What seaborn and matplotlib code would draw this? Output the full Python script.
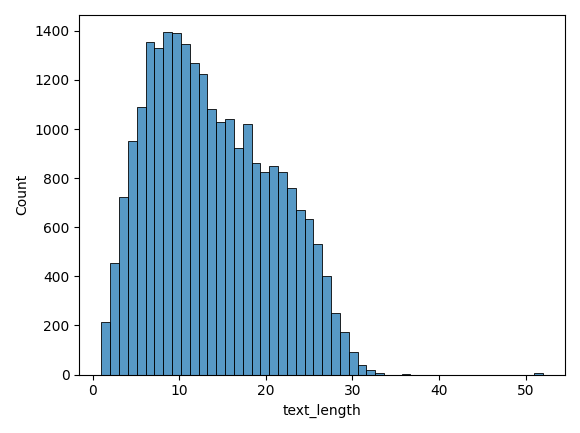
import numpy as np
import pandas as pd
import matplotlib
matplotlib.use("Agg")
import matplotlib.pyplot as plt
import seaborn as sns

# histogram counts (50 bins from 1 to 52)
bin_lo, bin_hi, n_bins = 1, 52, 50
counts = [215, 455, 725, 950, 1090, 1355, 1330, 1395, 1390, 1345,
          1270, 1225, 1080, 1030, 1040, 925, 1020, 860, 825, 850,
          825, 760, 670, 635, 530, 400, 250, 175, 90, 40,
          18, 8, 0, 0, 3, 0, 0, 0, 0, 0,
          0, 0, 0, 0, 0, 0, 0, 0, 0, 5]

edges = np.linspace(bin_lo, bin_hi, n_bins + 1)
centers = (edges[:-1] + edges[1:]) / 2
df = pd.DataFrame({"text_length": centers, "w": counts})

fig, ax = plt.subplots(figsize=(5.8, 4.33), dpi=100)
sns.histplot(data=df, x="text_length", weights="w", bins=n_bins,
             binrange=(bin_lo, bin_hi), ax=ax)
ax.set_ylabel("Count")
plt.tight_layout()
plt.savefig("out.png")
